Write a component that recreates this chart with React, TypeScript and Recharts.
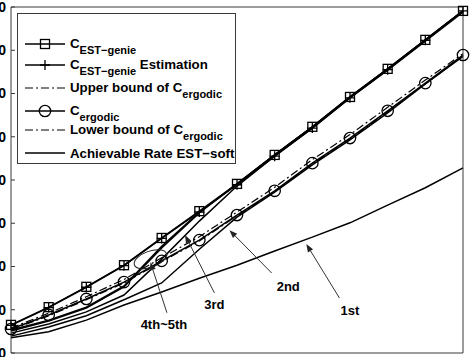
import { LineChart, Line, XAxis, YAxis, Legend, ReferenceLine, ReferenceDot } from 'recharts';

const snr = [0, 2.5, 5, 7.5, 10, 12.5, 15, 17.5, 20, 22.5, 25, 27.5, 30];
const xTicks = [0, 5, 10, 15, 20, 25, 30];
const yTicks = [0, 10, 20, 30, 40, 50, 60, 70, 80];

const genie = [6.5, 10.6, 15.3, 20.3, 26.6, 32.8, 39.1, 45.8, 52.3, 59.2, 65.7, 72.4, 79.1];
const genieEst = [6.4, 10.5, 15.2, 20.2, 26.5, 32.6, 38.9, 45.5, 52.0, 59.0, 65.5, 72.3, 79.1];
const upper = [5.8, 9.2, 13.0, 17.0, 22.0, 26.9, 32.6, 38.3, 44.7, 50.5, 56.8, 63.1, 69.2];
const ergodic = [5.55, 8.8, 12.5, 16.4, 21.3, 26.1, 31.9, 37.5, 43.9, 49.7, 56.0, 62.4, 68.9];
const lower = [5.4, 8.6, 12.3, 16.2, 21.1, 25.9, 31.7, 37.3, 43.7, 49.5, 55.8, 62.2, 68.7];
const soft1 = [3.5, 4.9, 7.6, 11.1, 14.1, 17.3, 20.3, 23.6, 26.8, 30.1, 34.2, 38.2, 42.8];
const soft2 = [3.9, 6.0, 8.6, 12.3, 16.2, 24.0, 31.4, 37.2, 43.5, 49.3, 55.5, 62.2, 68.6];
const soft3 = [4.6, 6.7, 9.5, 13.4, 21.7, 30.5, 38.6, 45.5, 52.0, 59.0, 65.4, 72.1, 78.8];
const soft4 = [5.1, 7.4, 10.4, 15.3, 24.3, 32.4, 39.1, 45.8, 52.3, 59.2, 65.7, 72.4, 79.1];
const soft5 = [5.3, 7.6, 10.6, 15.5, 24.7, 32.6, 39.1, 45.8, 52.3, 59.2, 65.7, 72.4, 79.1];

// annotation arrows: label, label position, arrow start, arrow tip (data units)
const notes = [
  { label: '1st', at: [22.5, 9.9], from: [21.8, 12.7], to: [19.6, 25.2] },
  { label: '2nd', at: [18.4, 15.3], from: [17.3, 18.5], to: [14.5, 28.4] },
  { label: '3rd', at: [13.5, 11.3], from: [13.5, 13.9], to: [11.55, 27.3] },
  { label: '4th~5th', at: [10.15, 6.7], from: [10.35, 9.3], to: [9.25, 21.0] },
];

const data = snr.map((x, i) => ({
  x,
  genie: genie[i],
  genieEst: genieEst[i],
  upper: upper[i],
  ergodic: ergodic[i],
  lower: lower[i],
  soft1: soft1[i],
  soft2: soft2[i],
  soft3: soft3[i],
  soft4: soft4[i],
  soft5: soft5[i],
}));

const FONT = '"Liberation Sans", Arial, Helvetica, sans-serif';
const AXIS = '#3a3a3a';
const DASHDOT = '8 3 2 3';

const Square = (cx: number, cy: number, key?: any) => (
  <rect key={key} x={cx - 4.5} y={cy - 4.5} width={9} height={9} fill="none" stroke="#000" strokeWidth={1.3} />
);
const Plus = (cx: number, cy: number, key?: any) => (
  <path key={key} d={`M${cx - 5},${cy}H${cx + 5}M${cx},${cy - 5}V${cy + 5}`} stroke="#000" strokeWidth={1.3} />
);
const Ring = (cx: number, cy: number, key?: any) => (
  <circle key={key} cx={cx} cy={cy} r={5.7} fill="none" stroke="#000" strokeWidth={1.3} />
);

const dotFn = (draw: typeof Square) => (p: any) =>
  p.cx == null || p.cy == null ? null : draw(p.cx, p.cy, `d${p.index}`);

const arrowShape = (p: any) => {
  const { x1, y1, x2, y2 } = p;
  const a = Math.atan2(y2 - y1, x2 - x1);
  const L = 8;
  const W = 3;
  const bx = x2 - L * Math.cos(a);
  const by = y2 - L * Math.sin(a);
  const nx = -Math.sin(a) * W;
  const ny = Math.cos(a) * W;
  return (
    <g>
      <line x1={x1} y1={y1} x2={bx} y2={by} stroke="#333" strokeWidth={1} />
      <polygon points={`${x2},${y2} ${bx + nx},${by + ny} ${bx - nx},${by - ny}`} fill="#222" />
    </g>
  );
};

const textShape = (label: string) => (p: any) => (
  <text x={p.cx} y={p.cy} textAnchor="middle" dominantBaseline="central" fontFamily={FONT} fontWeight="bold" fontSize={13} fill="#000">
    {label}
  </text>
);

const ellipseShape = (p: any) => (
  <ellipse cx={p.cx} cy={p.cy} rx={17} ry={8} transform={`rotate(-20 ${p.cx} ${p.cy})`} fill="none" stroke="#222" strokeWidth={1} />
);

const legendRows = [
  { main: 'C', sub: 'EST\u2212genie', tail: '', marker: Square, dash: undefined, y: 31, sy: 3.5 },
  { main: 'C', sub: 'EST\u2212genie', tail: ' Estimation', marker: Plus, dash: undefined, y: 52, sy: 3.5 },
  { main: 'Upper bound of C', sub: 'ergodic', tail: '', marker: null, dash: DASHDOT, y: 75, sy: 3.5 },
  { main: 'C', sub: 'ergodic', tail: '', marker: Ring, dash: undefined, y: 98, sy: 3.5 },
  { main: 'Lower bound of C', sub: 'ergodic', tail: '', marker: null, dash: DASHDOT, y: 117, sy: 3.5 },
  { main: 'Achievable Rate EST\u2212soft', sub: '', tail: '', marker: null, dash: undefined, y: 140, sy: 5 },
];

const LegendBox = () => (
  <svg width={219} height={151} style={{ display: 'block' }}>
    <rect x={0.5} y={0.5} width={218} height={150} fill="#fff" stroke={AXIS} strokeWidth={1} />
    {legendRows.map((r, i) => (
      <g key={i}>
        <line x1={8} x2={48} y1={r.y} y2={r.y} stroke="#000" strokeWidth={r.dash ? 1.2 : 1.5} strokeDasharray={r.dash} />
        {r.marker ? r.marker(28, r.y) : null}
        <text x={53} y={r.y + r.sy} fontFamily={FONT} fontWeight="bold" fontSize={13.3} fill="#000">
          {r.main}
          {r.sub ? (
            <tspan dy={6} fontSize={11}>
              {r.sub}
            </tspan>
          ) : null}
          {r.tail ? <tspan dy={-6}>{r.tail}</tspan> : null}
        </text>
      </g>
    ))}
  </svg>
);

export default function App() {
  const line = { type: 'linear' as const, stroke: '#000', isAnimationActive: false, activeDot: false, legendType: 'none' as const };
  return (
    <div style={{ position: 'absolute', left: 0, top: 0 }}>
      <LineChart width={474} height={357} data={data} margin={{ top: 6, right: 10, bottom: 3, left: 10 }}>
        <XAxis dataKey="x" type="number" domain={[0, 30]} ticks={xTicks} interval={0} height={1} tickSize={-4} tick={false} stroke={AXIS} />
        <XAxis xAxisId="top" orientation="top" dataKey="x" type="number" domain={[0, 30]} ticks={xTicks} interval={0} height={1} tickSize={-4} tick={false} stroke={AXIS} />
        <YAxis
          type="number"
          domain={[0, 80]}
          ticks={yTicks}
          interval={0}
          width={1}
          tickSize={-4}
          tickMargin={9}
          stroke={AXIS}
          tick={{ fontFamily: FONT, fontWeight: 'bold', fontSize: 14, fill: '#000' }}
        />
        <YAxis yAxisId="right" orientation="right" type="number" domain={[0, 80]} ticks={yTicks} interval={0} width={1} tickSize={-4} tick={false} stroke={AXIS} />

        <Line {...line} dataKey="soft1" strokeWidth={1.5} dot={false} />
        <Line {...line} dataKey="soft2" strokeWidth={1.5} dot={false} />
        <Line {...line} dataKey="soft3" strokeWidth={1.5} dot={false} />
        <Line {...line} dataKey="soft4" strokeWidth={1.5} dot={false} />
        <Line {...line} dataKey="soft5" strokeWidth={1.5} dot={false} />
        <Line {...line} dataKey="upper" strokeWidth={1.2} strokeDasharray={DASHDOT} dot={false} />
        <Line {...line} dataKey="lower" strokeWidth={1.2} strokeDasharray={DASHDOT} dot={false} />
        <Line {...line} dataKey="ergodic" strokeWidth={1.5} dot={dotFn(Ring)} />
        <Line {...line} dataKey="genieEst" strokeWidth={1.5} dot={dotFn(Plus)} />
        <Line {...line} dataKey="genie" strokeWidth={1.5} dot={dotFn(Square)} />

        {notes.map((n) => (
          <ReferenceLine
            key={`a-${n.label}`}
            segment={[
              { x: n.from[0], y: n.from[1] },
              { x: n.to[0], y: n.to[1] },
            ]}
            shape={arrowShape}
          />
        ))}
        {notes.map((n) => (
          <ReferenceDot key={`t-${n.label}`} x={n.at[0]} y={n.at[1]} r={1} shape={textShape(n.label)} />
        ))}
        <ReferenceDot x={9.25} y={21.7} r={1} shape={ellipseShape} />

        <Legend
          layout="vertical"
          align="center"
          verticalAlign="middle"
          content={() => <LegendBox />}
          wrapperStyle={{ left: 17, top: 13, width: 219, height: 151 }}
        />
      </LineChart>
    </div>
  );
}
